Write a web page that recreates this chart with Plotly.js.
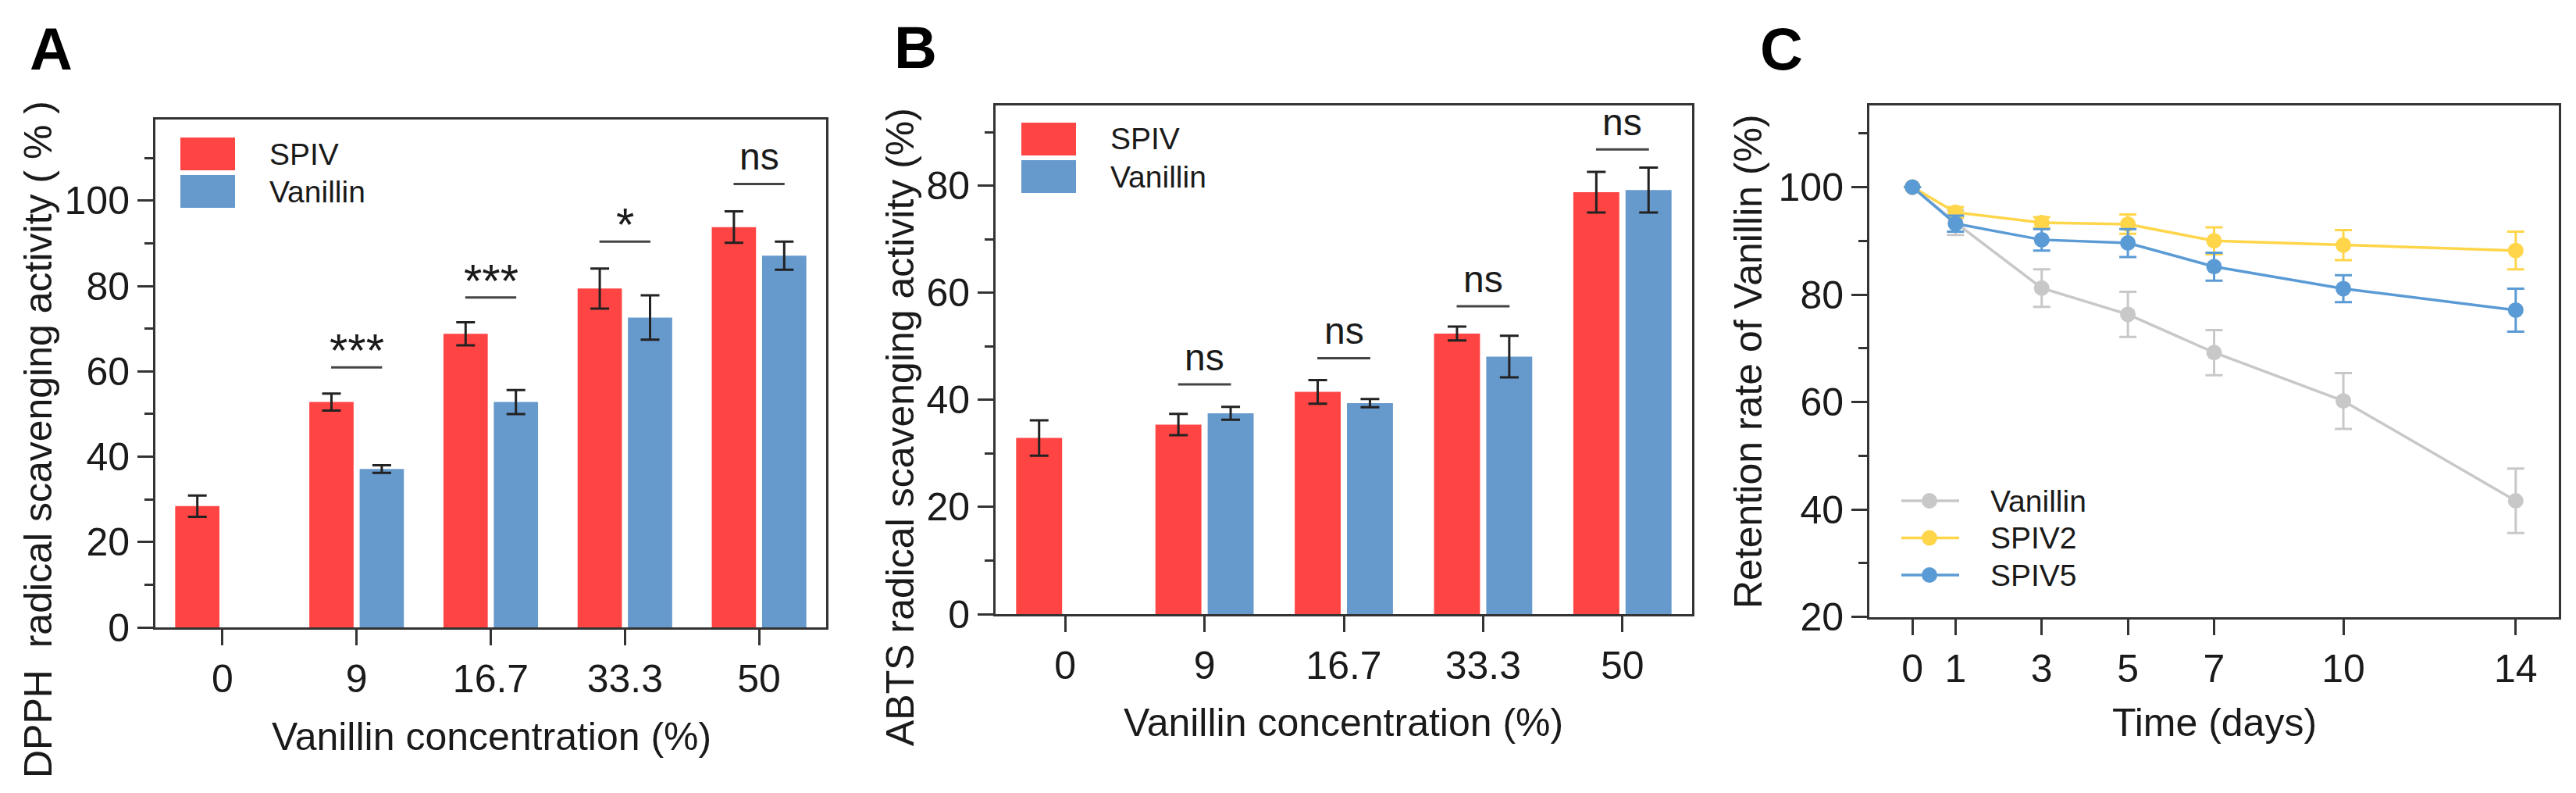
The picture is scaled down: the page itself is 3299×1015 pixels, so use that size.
<!DOCTYPE html>
<html>
<head>
<meta charset="utf-8">
<script src="https://cdn.plot.ly/plotly-3.0.1.min.js"></script>
<style>html,body{margin:0;padding:0;background:#fff;}#chart{width:3299px;height:1015px;}</style>
</head>
<body>
<div id="chart"></div>
<script>
// ---------- DATA ----------
const concCategories = ["0", "9", "16.7", "33.3", "50"];

// Panel A: DPPH radical scavenging activity (%)
const dpphSPIV      = [28.4, 52.8, 68.8, 79.4, 93.8];
const dpphSPIVErr   = [2.5, 2.0, 2.7, 4.7, 3.7];
const dpphVanillin    = [null, 37.1, 52.8, 72.6, 87.1];
const dpphVanillinErr = [null, 0.9, 2.8, 5.2, 3.3];
const dpphSigCats   = ["9", "16.7", "33.3", "50"];
const dpphSigLabels = ["***", "***", "*", "ns"];
const dpphSigLevel  = [60.9, 77.3, 90.4, 103.9];

// Panel B: ABTS radical scavenging activity (%)
const abtsSPIV      = [32.9, 35.4, 41.5, 52.4, 78.8];
const abtsSPIVErr   = [3.3, 2.0, 2.2, 1.3, 3.8];
const abtsVanillin    = [null, 37.5, 39.4, 48.1, 79.2];
const abtsVanillinErr = [null, 1.2, 0.75, 3.9, 4.2];
const abtsSigCats   = ["9", "16.7", "33.3", "50"];
const abtsSigLabels = ["ns", "ns", "ns", "ns"];
const abtsSigLevel  = [42.9, 47.8, 57.5, 86.8];

// Panel C: Retention rate of Vanillin (%)
const days = [0, 1, 3, 5, 7, 10, 14];
const retVanillin    = [100, 93.4, 81.2, 76.3, 69.2, 60.2, 41.6];
const retVanillinErr = [0, 2.3, 3.5, 4.2, 4.2, 5.2, 6.0];
const retSPIV2       = [100, 95.3, 93.4, 93.1, 90.0, 89.2, 88.2];
const retSPIV2Err    = [0, 1.0, 1.0, 1.8, 2.5, 2.8, 3.5];
const retSPIV5       = [100, 93.2, 90.2, 89.6, 85.2, 81.1, 77.1];
const retSPIV5Err    = [0, 1.5, 2.0, 2.6, 2.6, 2.5, 4.0];

// ---------- STYLE ----------
const W = 3299, H = 1015;
const FONT = "Liberation Sans, Arial, Helvetica, sans-serif";
const TXT = "#1a1a1a";
const AX = "#333333";
const RED = "#FF4444", BLUE = "#6699CC";
const C_GRAY = "#C8C8C8", C_YELLOW = "#FFD54A", C_BLUE = "#5B9BD5";
const px = x => x / W;
const py = y => 1 - y / H;

function axisBase(extra) {
  return Object.assign({
    showline: true, linewidth: 3, linecolor: AX, mirror: true,
    ticks: "outside", ticklen: 20, tickwidth: 3, tickcolor: AX,
    showgrid: false, zeroline: false,
    tickfont: {family: FONT, size: 50, color: TXT},
    fixedrange: true
  }, extra);
}

const errStyle = (arr) => ({type: "data", array: arr, visible: true, color: "#222222", thickness: 3, width: 12});

const traces = [
  {type: "bar", x: concCategories, y: dpphSPIV, name: "SPIV", marker: {color: RED},
   error_y: errStyle(dpphSPIVErr), xaxis: "x", yaxis: "y"},
  {type: "bar", x: concCategories, y: dpphVanillin, name: "Vanillin", marker: {color: BLUE},
   error_y: errStyle(dpphVanillinErr), xaxis: "x", yaxis: "y"},
  {type: "bar", x: concCategories, y: abtsSPIV, name: "SPIV", marker: {color: RED},
   error_y: errStyle(abtsSPIVErr), xaxis: "x2", yaxis: "y2"},
  {type: "bar", x: concCategories, y: abtsVanillin, name: "Vanillin", marker: {color: BLUE},
   error_y: errStyle(abtsVanillinErr), xaxis: "x2", yaxis: "y2"}
];

function lineTrace(y, err, color, name) {
  return {type: "scatter", mode: "lines+markers", x: days, y: y, name: name,
    line: {color: color, width: 3.5}, marker: {color: color, size: 20},
    error_y: {type: "data", array: err, visible: true, color: color, thickness: 3, width: 11},
    xaxis: "x3", yaxis: "y3"};
}
traces.push(lineTrace(retVanillin, retVanillinErr, C_GRAY, "Vanillin"));
traces.push(lineTrace(retSPIV2, retSPIV2Err, C_YELLOW, "SPIV2"));
traces.push(lineTrace(retSPIV5, retSPIV5Err, C_BLUE, "SPIV5"));

const shapes = [];
const annotations = [];

// significance brackets
function addSig(cats, labels, levels, xa, ya) {
  cats.forEach((c, k) => {
    const i = concCategories.indexOf(c);
    shapes.push({type: "line", xref: xa, yref: ya, x0: i - 0.19, x1: i + 0.19,
      y0: levels[k], y1: levels[k], line: {color: "#444444", width: 3}});
    const star = labels[k].indexOf("*") >= 0;
    annotations.push({xref: xa, yref: ya, x: i, y: levels[k], text: labels[k],
      showarrow: false, xanchor: "center", yanchor: "bottom",
      yshift: star ? -14 : 6,
      font: {family: FONT, size: star ? 60 : 48, color: TXT}});
  });
}
addSig(dpphSigCats, dpphSigLabels, dpphSigLevel, "x", "y");
addSig(abtsSigCats, abtsSigLabels, abtsSigLevel, "x2", "y2");

// bar legends (A and B)
function barLegend(x0, yTop, names, colors) {
  names.forEach((n, k) => {
    const y0 = yTop + k * 48;
    shapes.push({type: "rect", xref: "paper", yref: "paper",
      x0: px(x0), x1: px(x0 + 70), y0: py(y0), y1: py(y0 + 42),
      fillcolor: colors[k], line: {width: 0}});
    annotations.push({xref: "paper", yref: "paper", x: px(x0 + 112), y: py(y0 + 21),
      text: n, showarrow: false, xanchor: "left", yanchor: "middle",
      font: {family: FONT, size: 39, color: TXT}});
  });
}
barLegend(231, 176, ["SPIV", "Vanillin"], [RED, BLUE]);
barLegend(1308, 157, ["SPIV", "Vanillin"], [RED, BLUE]);

// line legend (C)
[["Vanillin", C_GRAY], ["SPIV2", C_YELLOW], ["SPIV5", C_BLUE]].forEach((it, k) => {
  const yc = 641 + k * 47.5;
  shapes.push({type: "line", xref: "paper", yref: "paper", x0: px(2435), x1: px(2509),
    y0: py(yc), y1: py(yc), line: {color: it[1], width: 3.5}});
  shapes.push({type: "circle", xref: "paper", yref: "paper", x0: px(2461), x1: px(2481),
    y0: py(yc - 10), y1: py(yc + 10), fillcolor: it[1], line: {width: 0}});
  annotations.push({xref: "paper", yref: "paper", x: px(2547), y: py(yc), text: it[0],
    showarrow: false, xanchor: "left", yanchor: "middle",
    font: {family: FONT, size: 39, color: TXT}});
});

// panel letters
[["A", 65, 62], ["B", 1172, 60], ["C", 2281, 62]].forEach(p => {
  annotations.push({xref: "paper", yref: "paper", x: px(p[1]), y: py(p[2]),
    text: "<b>" + p[0] + "</b>", showarrow: false, xanchor: "center", yanchor: "middle",
    font: {family: FONT, size: 76, color: "#000"}});
});

// axis titles
function title(text, x, y, angle) {
  annotations.push({xref: "paper", yref: "paper", x: px(x), y: py(y), text: text,
    showarrow: false, xanchor: "center", yanchor: "middle", textangle: angle,
    font: {family: FONT, size: 50, color: TXT}});
}
title("DPPH\u00a0\u00a0radical scavenging activity (\u00a0%\u00a0)", 49, 563, -90);
title("Vanillin concentration (%)", 629, 943, 0);
title("ABTS radical scavenging activity (%)", 1153, 547, -90);
title("Vanillin concentration (%)", 1721, 925, 0);
title("Retention rate of Vanillin (%)", 2239, 463, -90);
title("Time (days)", 2836, 925, 0);

const minorY = {dtick: 10, ticklen: 11, tickwidth: 3, tickcolor: AX, ticks: "outside", showgrid: false};

const layout = {
  width: W, height: H,
  margin: {l: 0, r: 0, t: 0, b: 0, pad: 0},
  paper_bgcolor: "#fff", plot_bgcolor: "#fff",
  showlegend: false,
  barmode: "group", bargap: 0.25, bargroupgap: 0.12,
  font: {family: FONT, color: TXT},
  xaxis: axisBase({domain: [px(199), px(1058)], anchor: "y", type: "category",
    categoryorder: "array", categoryarray: concCategories, range: [-0.5, 4.5]}),
  yaxis: axisBase({domain: [py(803), py(153)], anchor: "x", range: [0, 119],
    tick0: 0, dtick: 20, minor: minorY}),
  xaxis2: axisBase({domain: [px(1275), px(2167)], anchor: "y2", type: "category",
    categoryorder: "array", categoryarray: concCategories, range: [-0.5, 4.5]}),
  yaxis2: axisBase({domain: [py(786), py(135)], anchor: "x2", range: [0, 95],
    tick0: 0, dtick: 20, minor: minorY}),
  xaxis3: axisBase({domain: [px(2394), px(3277)], anchor: "y3", range: [-1, 15],
    tickmode: "array", tickvals: days, ticktext: days.map(String)}),
  yaxis3: axisBase({domain: [py(789.5), py(135)], anchor: "x3", range: [20, 115.2],
    tick0: 20, dtick: 20, minor: minorY}),
  shapes: shapes,
  annotations: annotations
};

Plotly.newPlot("chart", traces, layout, {staticPlot: true, displayModeBar: false});
</script>
</body>
</html>
